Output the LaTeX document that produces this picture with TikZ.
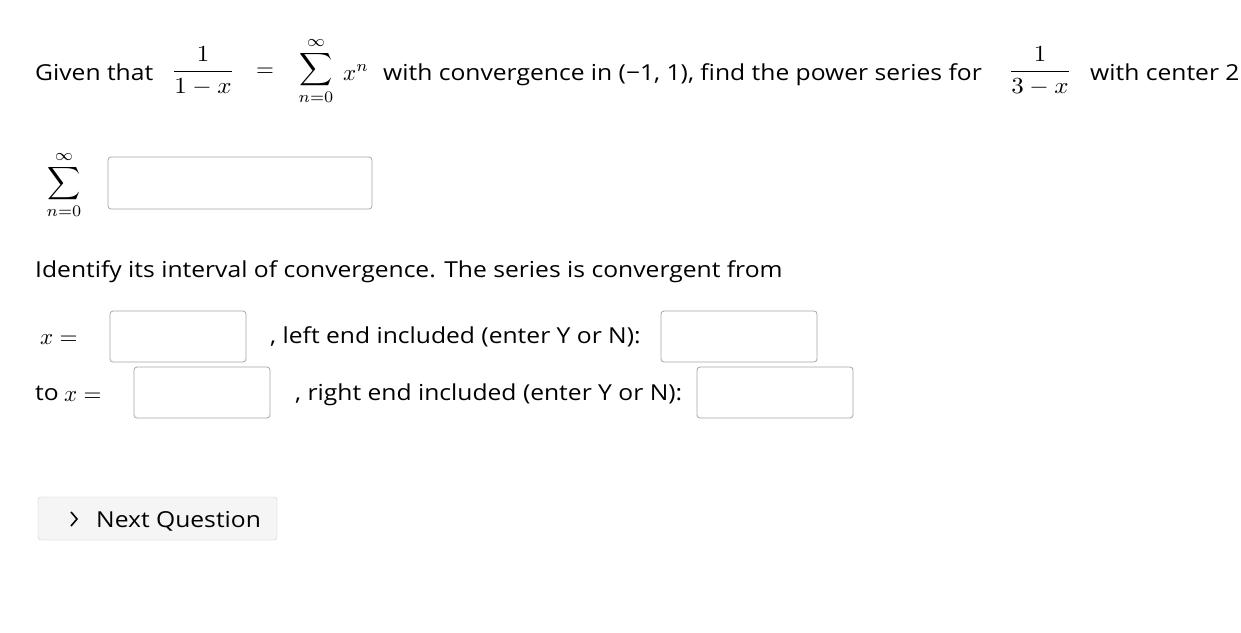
\documentclass[tikz,border=0pt]{standalone}
\usepackage{amsmath}
\usepackage{fontspec}
\setmainfont[FakeStretch=1.12]{Open Sans}
\begin{document}
\begin{tikzpicture}[x=1pt,y=-1pt,
  txt/.style={anchor=base west,inner sep=0pt,font=\fontsize{22}{26}\selectfont},
  mth/.style={inner sep=0pt},
  inbox/.style={draw=gray!70,rounded corners=3pt,line width=0.8pt}]
\useasboundingbox[fill=white] (0,0) rectangle (1241,632);
\node[txt] (g) at (35,80) {Given that};
\node[mth] (f1) at (203,71) {\scalebox{2.5}[2.3]{$\displaystyle\frac{1}{1-x}$}};
\node[mth] (eq) at (265,72) {\scalebox{2.3}{$=$}};
\node[mth] (s1) at (316,71) {\scalebox{2.3}{$\displaystyle\sum_{n=0}^{\infty}$}};
\node[mth,anchor=base west] (xn) at (343,80) {\scalebox{2.3}{$x^n$}};
\node[txt] (w) at (383,80) {with convergence in (−1, 1), find the power series for};
\node[mth] (f2) at (1040,71) {\scalebox{2.5}[2.3]{$\displaystyle\frac{1}{3-x}$}};
\node[txt] (c) at (1090,80) {with center 2};
\node[mth] (s) at (64,185) {\scalebox{2.3}{$\displaystyle\sum_{n=0}^{\infty}$}};
\draw[inbox] (108,157) rectangle (372,209);
\node[txt] (id) at (35,277) {Identify its interval of convergence. The series is convergent from};
\node[mth,anchor=base west] (x1) at (40,344) {\scalebox{2.3}{$x=$}};
\draw[inbox] (110,311) rectangle (246,362);
\node[txt] (l) at (270,343) {, left end included (enter Y or N):};
\draw[inbox] (661,311) rectangle (817,362);
\node[txt] (to) at (35,400) {to};
\node[mth,anchor=base west] (x2) at (64,401) {\scalebox{2.3}{$x=$}};
\draw[inbox] (134,367) rectangle (270,418);
\node[txt] (r) at (295,400) {, right end included (enter Y or N):};
\draw[inbox] (697,367) rectangle (853,418);
\draw[draw=gray!40,fill=gray!8,rounded corners=3pt] (38,497) rectangle (277,540);
\draw[line width=1.6pt] (71,512) -- (77,519) -- (71,526);
\node[txt] (b) at (96,527) {Next Question};
\end{tikzpicture}
\end{document}
